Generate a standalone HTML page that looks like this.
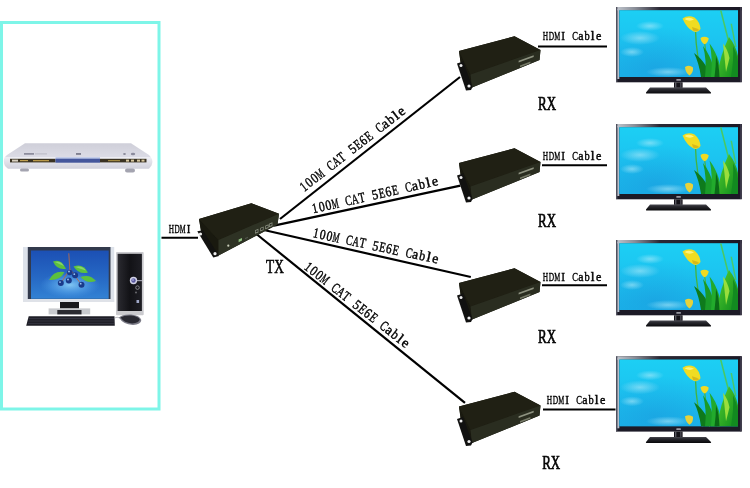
<!DOCTYPE html>
<html><head><meta charset="utf-8">
<style>
html,body{margin:0;padding:0;background:#fff;}
body{width:750px;height:488px;overflow:hidden;font-family:"Liberation Serif",serif;}
svg{display:block;filter:blur(0.35px);}
</style></head>
<body>
<svg width="750" height="488" viewBox="0 0 750 488">
<defs>
  <linearGradient id="scr" x1="0" y1="0" x2="0" y2="1">
    <stop offset="0" stop-color="#1ccff4"/>
    <stop offset="0.5" stop-color="#1cc3f0"/>
    <stop offset="1" stop-color="#1ab4ea"/>
  </linearGradient>
  <radialGradient id="scrDark" cx="0.3" cy="0.85" r="0.6">
    <stop offset="0" stop-color="#1a90d8" stop-opacity="0.42"/>
    <stop offset="1" stop-color="#1a90d8" stop-opacity="0"/>
  </radialGradient>
  <radialGradient id="cloud" cx="0.5" cy="0.5" r="0.5">
    <stop offset="0" stop-color="#bdeefa" stop-opacity="0.55"/>
    <stop offset="1" stop-color="#bdeefa" stop-opacity="0"/>
  </radialGradient>
  <linearGradient id="tvbase" x1="0" y1="0" x2="0" y2="1">
    <stop offset="0" stop-color="#4a4a52"/>
    <stop offset="0.3" stop-color="#2a2a30"/>
    <stop offset="0.75" stop-color="#141418"/>
    <stop offset="1" stop-color="#08080a"/>
  </linearGradient>
  <linearGradient id="bezTop" x1="0" y1="0" x2="1" y2="0">
    <stop offset="0" stop-color="#c0c6ce"/>
    <stop offset="0.15" stop-color="#8a8e98"/>
    <stop offset="0.35" stop-color="#2a2834"/>
    <stop offset="1" stop-color="#1a1824"/>
  </linearGradient>
  <linearGradient id="leafG" x1="0" y1="0" x2="1" y2="1">
    <stop offset="0" stop-color="#58d030"/>
    <stop offset="1" stop-color="#0c8a1c"/>
  </linearGradient>
  <g id="tv">
    <rect x="616" y="7" width="125.8" height="75.3" fill="#1c1a26"/>
    <rect x="616" y="7" width="125.5" height="3.4" fill="url(#bezTop)"/>
    <rect x="616" y="7" width="1.4" height="75" fill="#50505e"/>
    <rect x="617.4" y="9" width="1.9" height="70" fill="#b8c0cc"/>
    <rect x="740" y="7" width="1.5" height="75" fill="#3a3648"/>
    <rect x="619.3" y="10.2" width="118.7" height="66.8" fill="url(#scr)"/>
    <rect x="619.3" y="10.2" width="118.7" height="66.8" fill="url(#scrDark)"/>
    <ellipse cx="640" cy="38" rx="20" ry="7" fill="url(#cloud)"/>
    <ellipse cx="650" cy="26" rx="14" ry="5" fill="url(#cloud)"/>
    <ellipse cx="632" cy="52" rx="12" ry="5" fill="url(#cloud)"/>
    <ellipse cx="668" cy="72" rx="22" ry="5" fill="url(#cloud)"/>
    <!-- grass blades -->
    <path d="M720 10.6 L721.6 10.6 L730 43.5 L728.4 43.5 Z" fill="#52c848" opacity="0.85"/>
    <path d="M730.5 23.8 L732 23.8 L736.5 47 L735 47 Z" fill="#52c848" opacity="0.8"/>
    <!-- stems -->
    <path d="M695.6 32 Q696 55 703 77" stroke="#46b43a" stroke-width="1.3" fill="none"/>
    <path d="M704.6 43 Q707 60 709.6 77" stroke="#46b43a" stroke-width="1.1" fill="none"/>
    <!-- leaves -->
    <path d="M694 53 Q701 58 706 66 L709 77 L701 77 Q699 63 694 53Z" fill="#0e7a1c"/>
    <path d="M703 46 Q710 55 713 66 L715 77 L705 77 Q707 60 703 46Z" fill="#1a9a28"/>
    <path d="M709.6 43.5 Q716 52 719 62 L720 77 L711 77 Q713 58 709.6 43.5Z" fill="#22aa2c"/>
    <path d="M729 37 Q736 46 738 56 L738 77 L717 77 Q720 55 729 37Z" fill="url(#leafG)"/>
    <path d="M723 43.5 Q728 50 729.5 58 L726 72 Q724.5 56 723 43.5Z" fill="#9ade3c"/>
    <path d="M733 46 Q737 54 738 62 L738 77 L731 77 Q734 60 733 46Z" fill="#128a20"/>
    <path d="M716 56 Q719 64 719.5 77 L714.5 77 Q716 66 716 56Z" fill="#0a6a16"/>
    <!-- flowers -->
    <path d="M682.5 18.5 Q688 14.5 694.5 17.5 Q700 22 700.5 29 Q698.5 33 693.5 31.5 Q686.5 28 682.5 18.5Z" fill="#f0dc22"/>
    <path d="M684.5 19 Q689.5 16.5 694 19.5 Q689.5 22 684.5 19Z" fill="#fff27a"/>
    <path d="M692 27 Q696 28 699.5 30 Q697 32 693 30.5Z" fill="#d8b818"/>
    <path d="M700.5 38 Q704.5 35.5 708.7 38.3 Q708.2 43 704.5 44.3 Q701 42.5 700.5 38Z" fill="#f0da22"/>
    <path d="M685 67 Q689.5 64.5 693 67.5 Q693.5 73 689.5 75.5 Q685.5 73 685 67Z" fill="#e6d23a"/>
    <!-- LG logo -->
    <rect x="676.3" y="79" width="4.6" height="1.7" rx="0.5" fill="#9a9aa2"/>
    <!-- neck -->
    <rect x="674" y="82.3" width="8.6" height="5.6" fill="#141218"/>
    <rect x="675.2" y="82.6" width="1.1" height="5" fill="#6a6a74"/>
    <rect x="680.3" y="82.6" width="1.1" height="5" fill="#5a5a64"/>
    <!-- base -->
    <path d="M650 87.6 L706 87.6 L711 92.6 Q711.5 93.6 710.5 93.6 L646.5 93.6 Q645.5 93.6 646 92.6 Z" fill="url(#tvbase)"/>
      </g>

  <g id="rx">
    <path d="M459 51 L514.5 36.3 L540.5 50 L539.5 60 L472 87.5 L460.5 62 Z" fill="#1e1e13"/>
    <path d="M459 51 L470.5 74.5 L472 87.5 L460.5 62 Z" fill="#19190f"/>
    <path d="M459 51 L514.5 36.3 L540.5 50 L470.5 74.5 Z" fill="#202014"/>
    <path d="M470.5 74.5 L540.5 50 L539.5 60 L472 87.5 Z" fill="#2a2d20"/>
    <path d="M518.6 60.8 L533.7 55.2 L533.7 57 L518.6 62.6 Z" fill="#8e9280"/>
    <path d="M520 65.4 L530.4 61.4 L530.4 63.2 L520 67.2 Z" fill="#767a68"/>
    <path d="M457 63.5 L463 61.5 L472.5 87 L471 90 L466 90.5 Z" fill="#111110"/>
    <circle cx="461" cy="65.5" r="1.5" fill="#eeeeee"/>
    <circle cx="469" cy="86" r="1.6" fill="#eeeeee"/>
  </g>

</defs>
<rect x="1.5" y="22.5" width="157.5" height="386.5" fill="none" stroke="#7ef5e8" stroke-width="3"/>
<defs>
  <linearGradient id="pcscr" x1="0" y1="0" x2="0" y2="1">
    <stop offset="0" stop-color="#1c50b4"/>
    <stop offset="0.55" stop-color="#2668c4"/>
    <stop offset="1" stop-color="#3282d4"/>
  </linearGradient>
  <radialGradient id="pcglow" cx="0.5" cy="0.5" r="0.5">
    <stop offset="0" stop-color="#8cd0f8" stop-opacity="0.9"/>
    <stop offset="0.6" stop-color="#5aa8ec" stop-opacity="0.5"/>
    <stop offset="1" stop-color="#4a98e4" stop-opacity="0"/>
  </radialGradient>
  <linearGradient id="dvdtop" x1="0" y1="0" x2="0" y2="1">
    <stop offset="0" stop-color="#cfcfd9"/>
    <stop offset="1" stop-color="#dcdce6"/>
  </linearGradient>
  <linearGradient id="dvdfront" x1="0" y1="0" x2="0" y2="1">
    <stop offset="0" stop-color="#eeeef4"/>
    <stop offset="1" stop-color="#cfcfda"/>
  </linearGradient>
  <linearGradient id="twr" x1="0" y1="0" x2="1" y2="0">
    <stop offset="0" stop-color="#2a2a30"/>
    <stop offset="0.5" stop-color="#121216"/>
    <stop offset="1" stop-color="#1e1e24"/>
  </linearGradient>
</defs>
<!-- DVD player -->
<g>
  <path d="M25 143.3 L131 143.3 L149 155 L151 157.5 L4.5 157.5 L7 155 Z" fill="url(#dvdtop)"/>
  <path d="M4.5 157.5 L151 157.5 Q153.5 161 151.5 165.5 L149 168.8 L8 168.8 L5 166 Q3 161.5 4.5 157.5Z" fill="url(#dvdfront)"/>
  <rect x="10" y="158.8" width="45.5" height="3.6" fill="#3a3222"/>
  <rect x="55.5" y="157.4" width="44.5" height="1.3" fill="#a8b8e4"/>
  <rect x="55.5" y="158.7" width="44.5" height="4" fill="#44569c"/>
  <rect x="100" y="158.8" width="46.5" height="3.6" fill="#3a3222"/>
  <rect x="12" y="159.6" width="6" height="2" fill="#d8d0c0"/>
  <rect x="20" y="160" width="8" height="1.2" fill="#c0a050"/>
  <rect x="33" y="160" width="16" height="1.3" fill="#b89848"/>
  <rect x="108" y="160" width="12" height="1.2" fill="#a08840"/>
  <rect x="126" y="159.6" width="3" height="2" fill="#d8c8a0"/>
  <rect x="131" y="159.6" width="3" height="2" fill="#d8c8a0"/>
  <rect x="137" y="159.6" width="3" height="2" fill="#d8c8a0"/>
  <rect x="141.5" y="159.6" width="3" height="2" fill="#d8c8a0"/>
  <rect x="24" y="153.2" width="10" height="1.4" fill="#7a7a8c"/>
  <rect x="35" y="153.4" width="12" height="1" fill="#b8b8c4"/>
  <rect x="76" y="153.2" width="5" height="1.5" fill="#6a6a7c"/>
  <ellipse cx="124.5" cy="154" rx="1.4" ry="1" fill="#8a8a9a"/>
  <ellipse cx="133" cy="154" rx="2.2" ry="1.3" fill="#8a8a9c"/>
  <rect x="20" y="168.5" width="9" height="3" rx="1.5" fill="#a4a4b0"/>
  <rect x="125" y="168.5" width="10" height="4" rx="2" fill="#a4a4b0"/>
</g>
<!-- Computer -->
<g>
  <rect x="23" y="247" width="91.2" height="55" fill="#dde2ea"/>
  <rect x="27.8" y="247" width="82.7" height="52" fill="#323a4c"/>
  <rect x="31" y="250.5" width="77.7" height="48.3" fill="url(#pcscr)"/>
  <ellipse cx="70" cy="285" rx="30" ry="13" fill="url(#pcglow)"/>
  <g fill="#5cc03e">
    <path d="M53 261.5 Q61 258 66 268.8 Q57 270.5 53 261.5Z"/>
    <path d="M49 280 Q54 270 64.5 272 Q60 281 49 280Z"/>
    <path d="M73.5 266.5 Q83 263 88 272.5 Q79 275 73.5 266.5Z"/>
    <path d="M80.5 277 Q90 273.5 96 281 Q87 284.5 80.5 277Z"/>
  </g>
  <g fill="#9ae07a" opacity="0.7">
    <path d="M55 262 Q61 260.5 64 266 Q59 264 55 262Z"/>
    <path d="M75.5 267 Q82 265 86 270.5 Q80 268.5 75.5 267Z"/>
  </g>
  <path d="M68.8 253.3 L69.8 269.3 M69.8 269.3 L61 283 M69.8 269.3 L75 275 M69.8 269.3 L81.5 284.7" stroke="#b86a48" stroke-width="0.9" fill="none"/>
  <g fill="#1a3a8a">
    <circle cx="69.8" cy="272.5" r="2.8"/>
    <circle cx="75.1" cy="275.2" r="3"/>
    <circle cx="68.8" cy="280.5" r="3"/>
    <circle cx="60.8" cy="283.1" r="3"/>
    <circle cx="81.5" cy="284.7" r="3"/>
  </g>
  <g fill="#9ac4f0">
    <circle cx="69" cy="271.5" r="0.9"/>
    <circle cx="74.3" cy="274.2" r="0.9"/>
    <circle cx="68" cy="279.5" r="0.9"/>
    <circle cx="60" cy="282.1" r="0.9"/>
    <circle cx="80.7" cy="283.7" r="0.9"/>
  </g>
  <rect x="23" y="299" width="91.2" height="3" fill="#dfe2e8"/>
  <rect x="60" y="302" width="19" height="6.5" fill="#18181c"/>
  <rect x="48.6" y="308.4" width="41.6" height="6" fill="#c8cace"/>
  <rect x="57.3" y="310" width="24.2" height="4.4" fill="#2a2a30"/>
  <path d="M28.7 316.2 L114.5 316.2 L114.8 325.7 L26.2 325.7 Z" fill="#1e1e26"/>
  <g stroke="#3c3c4a" stroke-width="0.7">
    <line x1="29" y1="318.6" x2="114" y2="318.6"/>
    <line x1="28.5" y1="321" x2="114" y2="321"/>
    <line x1="28" y1="323.4" x2="114" y2="323.4"/>
  </g>
  <rect x="116" y="252" width="27.7" height="63.3" rx="1" fill="#cacace"/>
  <rect x="117.6" y="253.8" width="24.3" height="57.2" fill="url(#twr)"/>
  <rect x="134" y="280" width="8" height="1.2" fill="#9a9aa8"/>
  <circle cx="133.5" cy="280.5" r="3.7" fill="#d0d0e4"/>
  <circle cx="133.5" cy="280.5" r="2.2" fill="#5a5aa0"/>
  <circle cx="133" cy="280" r="0.8" fill="#c8c8f0"/>
  <circle cx="137.5" cy="287.6" r="1.8" fill="none" stroke="#9a9aa0" stroke-width="0.8"/>
  <circle cx="136" cy="292.5" r="1" fill="#6a6a70"/>
  <rect x="136.5" y="300" width="2.6" height="3" fill="#a0a8c8"/>
  <path d="M114.5 318 Q117 316.5 120 318" stroke="#9a9aa4" stroke-width="0.7" fill="none"/>
  <path d="M119 317.5 Q122 314.3 131 314.6 Q140 315.5 141.3 320 Q141 324.5 133 324.9 Q123 324.5 119 317.5Z" fill="#7a7a86"/>
  <path d="M120.5 317.5 Q124 315.3 131 315.6 Q138.5 316.5 139.8 319.5 Q139 323 132 323.5 Q124 322.8 120.5 317.5Z" fill="#2a2a32"/>
</g>


<!-- HDMI input line -->
<line x1="161.5" y1="237.7" x2="198" y2="237.7" stroke="#000" stroke-width="2"/>

<!-- cables -->
<g stroke="#000" stroke-width="2.2" stroke-linecap="butt">
  <line x1="280" y1="219" x2="460" y2="77"/>
  <line x1="274" y1="225.7" x2="460.4" y2="185.6"/>
  <line x1="265" y1="230.3" x2="470.8" y2="277"/>
  <line x1="257" y1="234.5" x2="465" y2="402.8"/>
</g>
<g>
  <path d="M199 219 L251.4 203.2 L279 213.7 L277.5 224.5 L218.5 255.5 L201 231 Z" fill="#1e1e13"/>
  <path d="M199 219 L218.5 240 L218.5 255.5 L201 231 Z" fill="#19190f"/>
  <path d="M199 219 L251.4 203.2 L279 213.7 L218.5 240 Z" fill="#202014"/>
  <path d="M218.5 240 L279 213.7 L277.5 224.5 L218.5 255.5 Z" fill="#2e3224"/>
  <g><path d="M255.0 230.2 L258.4 228.8 L258.4 232.4 L255.0 233.8 Z" fill="#8c9282"/><path d="M255.7 230.7 L257.7 229.9 L257.7 231.8 L255.7 232.6 Z" fill="#2a2c24"/><path d="M260.2 227.9 L263.6 226.5 L263.6 230.1 L260.2 231.5 Z" fill="#8c9282"/><path d="M260.9 228.4 L262.9 227.6 L262.9 229.5 L260.9 230.3 Z" fill="#2a2c24"/><path d="M265.2 225.7 L268.6 224.3 L268.6 227.9 L265.2 229.3 Z" fill="#8c9282"/><path d="M265.9 226.2 L267.9 225.4 L267.9 227.3 L265.9 228.1 Z" fill="#2a2c24"/><path d="M269.0 223.7 L272.4 222.3 L272.4 225.9 L269.0 227.3 Z" fill="#8c9282"/><path d="M269.7 224.2 L271.7 223.4 L271.7 225.3 L269.7 226.1 Z" fill="#2a2c24"/></g>
  <path d="M238.6 239.6 L242 238 L242 240.6 L238.6 242.2Z" fill="#90c080"/>
  <path d="M245 238 L248 236.8 L248 238 L245 239.2Z" fill="#50544a"/>
  <circle cx="228.3" cy="245.7" r="1.1" fill="#c8ccb8"/>
  <path d="M197.3 231.3 L203 230.3 L219 256 L213.3 257.6 Z" fill="#121210"/>
  <circle cx="200.5" cy="234" r="1.6" fill="#eeeeee"/>
  <circle cx="215" cy="253.7" r="1.6" fill="#eeeeee"/>
</g>

<text x="266" y="272.7" font-family="Liberation Serif" font-size="19.1" stroke="#000" stroke-width="0.55" textLength="17.8" lengthAdjust="spacingAndGlyphs">TX</text>

<use href="#rx"/>
<use href="#rx" transform="translate(0,112)"/>
<use href="#rx" transform="translate(0,232)"/>
<use href="#rx" transform="translate(0,355.5)"/>

<g fill="#000">
<g font-family="Liberation Serif" font-size="14.00" stroke="#000" stroke-width="0.42"><text transform="translate(306.50,190.20) rotate(-37.85) scale(0.764,1)" x="-3.69">1</text><text transform="translate(311.91,186.00) rotate(-37.85) scale(0.831,1)" x="-3.50">0</text><text transform="translate(317.31,181.80) rotate(-37.85) scale(0.831,1)" x="-3.50">0</text><text transform="translate(322.72,177.60) rotate(-37.85) scale(0.559,1)" x="-6.22">M</text><text transform="translate(333.53,169.20) rotate(-37.85) scale(0.702,1)" x="-4.57">C</text><text transform="translate(338.93,165.00) rotate(-37.85) scale(0.673,1)" x="-5.07">A</text><text transform="translate(344.34,160.80) rotate(-37.85) scale(0.730,1)" x="-4.29">T</text><text transform="translate(355.15,152.40) rotate(-37.85) scale(0.874,1)" x="-3.63">5</text><text transform="translate(360.56,148.20) rotate(-37.85) scale(0.735,1)" x="-4.13">E</text><text transform="translate(365.96,144.00) rotate(-37.85) scale(0.824,1)" x="-3.59">6</text><text transform="translate(371.37,139.80) rotate(-37.85) scale(0.735,1)" x="-4.13">E</text><text transform="translate(382.18,131.40) rotate(-37.85) scale(0.702,1)" x="-4.57">C</text><text transform="translate(387.58,127.20) rotate(-37.85) scale(0.990,1)" x="-3.26">a</text><text transform="translate(392.99,123.00) rotate(-37.85) scale(0.868,1)" x="-3.23">b</text><text transform="translate(398.39,118.80) rotate(-37.85) scale(1.131,1)" x="-1.94">l</text><text transform="translate(403.80,114.60) rotate(-37.85) scale(1.004,1)" x="-3.14">e</text></g>
<g font-family="Liberation Serif" font-size="14.00" stroke="#000" stroke-width="0.42"><text transform="translate(316.10,212.70) rotate(-12.75) scale(0.761,1)" x="-3.69">1</text><text transform="translate(322.76,211.19) rotate(-12.75) scale(0.828,1)" x="-3.50">0</text><text transform="translate(329.41,209.69) rotate(-12.75) scale(0.828,1)" x="-3.50">0</text><text transform="translate(336.07,208.18) rotate(-12.75) scale(0.557,1)" x="-6.22">M</text><text transform="translate(349.38,205.17) rotate(-12.75) scale(0.700,1)" x="-4.57">C</text><text transform="translate(356.03,203.67) rotate(-12.75) scale(0.671,1)" x="-5.07">A</text><text transform="translate(362.69,202.16) rotate(-12.75) scale(0.728,1)" x="-4.29">T</text><text transform="translate(376.00,199.15) rotate(-12.75) scale(0.871,1)" x="-3.63">5</text><text transform="translate(382.66,197.64) rotate(-12.75) scale(0.733,1)" x="-4.13">E</text><text transform="translate(389.31,196.14) rotate(-12.75) scale(0.821,1)" x="-3.59">6</text><text transform="translate(395.97,194.63) rotate(-12.75) scale(0.733,1)" x="-4.13">E</text><text transform="translate(409.28,191.62) rotate(-12.75) scale(0.700,1)" x="-4.57">C</text><text transform="translate(415.93,190.12) rotate(-12.75) scale(0.987,1)" x="-3.26">a</text><text transform="translate(422.59,188.61) rotate(-12.75) scale(0.865,1)" x="-3.23">b</text><text transform="translate(429.24,187.11) rotate(-12.75) scale(1.127,1)" x="-1.94">l</text><text transform="translate(435.90,185.60) rotate(-12.75) scale(1.001,1)" x="-3.14">e</text></g>
<g font-family="Liberation Serif" font-size="14.00" stroke="#000" stroke-width="0.42"><text transform="translate(315.30,237.70) rotate(11.94) scale(0.755,1)" x="-3.69">1</text><text transform="translate(321.92,239.10) rotate(11.94) scale(0.821,1)" x="-3.50">0</text><text transform="translate(328.54,240.50) rotate(11.94) scale(0.821,1)" x="-3.50">0</text><text transform="translate(335.17,241.90) rotate(11.94) scale(0.553,1)" x="-6.22">M</text><text transform="translate(348.41,244.70) rotate(11.94) scale(0.695,1)" x="-4.57">C</text><text transform="translate(355.03,246.10) rotate(11.94) scale(0.665,1)" x="-5.07">A</text><text transform="translate(361.66,247.50) rotate(11.94) scale(0.722,1)" x="-4.29">T</text><text transform="translate(374.90,250.30) rotate(11.94) scale(0.864,1)" x="-3.63">5</text><text transform="translate(381.52,251.70) rotate(11.94) scale(0.727,1)" x="-4.13">E</text><text transform="translate(388.14,253.10) rotate(11.94) scale(0.815,1)" x="-3.59">6</text><text transform="translate(394.77,254.50) rotate(11.94) scale(0.727,1)" x="-4.13">E</text><text transform="translate(408.01,257.30) rotate(11.94) scale(0.695,1)" x="-4.57">C</text><text transform="translate(414.63,258.70) rotate(11.94) scale(0.979,1)" x="-3.26">a</text><text transform="translate(421.26,260.10) rotate(11.94) scale(0.858,1)" x="-3.23">b</text><text transform="translate(427.88,261.50) rotate(11.94) scale(1.118,1)" x="-1.94">l</text><text transform="translate(434.50,262.90) rotate(11.94) scale(0.993,1)" x="-3.14">e</text></g>
<g font-family="Liberation Serif" font-size="14.00" stroke="#000" stroke-width="0.42"><text transform="translate(305.70,270.20) rotate(38.10) scale(0.767,1)" x="-3.69">1</text><text transform="translate(311.11,274.44) rotate(38.10) scale(0.834,1)" x="-3.50">0</text><text transform="translate(316.51,278.68) rotate(38.10) scale(0.834,1)" x="-3.50">0</text><text transform="translate(321.92,282.92) rotate(38.10) scale(0.561,1)" x="-6.22">M</text><text transform="translate(332.73,291.39) rotate(38.10) scale(0.705,1)" x="-4.57">C</text><text transform="translate(338.13,295.63) rotate(38.10) scale(0.675,1)" x="-5.07">A</text><text transform="translate(343.54,299.87) rotate(38.10) scale(0.732,1)" x="-4.29">T</text><text transform="translate(354.35,308.35) rotate(38.10) scale(0.877,1)" x="-3.63">5</text><text transform="translate(359.76,312.59) rotate(38.10) scale(0.738,1)" x="-4.13">E</text><text transform="translate(365.16,316.83) rotate(38.10) scale(0.827,1)" x="-3.59">6</text><text transform="translate(370.57,321.07) rotate(38.10) scale(0.738,1)" x="-4.13">E</text><text transform="translate(381.38,329.54) rotate(38.10) scale(0.705,1)" x="-4.57">C</text><text transform="translate(386.78,333.78) rotate(38.10) scale(0.994,1)" x="-3.26">a</text><text transform="translate(392.19,338.02) rotate(38.10) scale(0.871,1)" x="-3.23">b</text><text transform="translate(397.59,342.26) rotate(38.10) scale(1.135,1)" x="-1.94">l</text><text transform="translate(403.00,346.50) rotate(38.10) scale(1.008,1)" x="-3.14">e</text></g>
<g font-family="Liberation Serif" font-size="12.70" stroke="#000" stroke-width="0.42"><text transform="translate(545.55,39.90) rotate(0.00) scale(0.588,1)" x="-4.58">H</text><text transform="translate(551.45,39.90) rotate(0.00) scale(0.583,1)" x="-4.51">D</text><text transform="translate(557.35,39.90) rotate(0.00) scale(0.531,1)" x="-5.64">M</text><text transform="translate(563.25,39.90) rotate(0.00) scale(0.888,1)" x="-2.12">I</text><text transform="translate(575.05,39.90) rotate(0.00) scale(0.667,1)" x="-4.15">C</text><text transform="translate(580.95,39.90) rotate(0.00) scale(0.941,1)" x="-2.95">a</text><text transform="translate(586.85,39.90) rotate(0.00) scale(0.825,1)" x="-2.93">b</text><text transform="translate(592.75,39.90) rotate(0.00) scale(1.075,1)" x="-1.76">l</text><text transform="translate(598.65,39.90) rotate(0.00) scale(0.954,1)" x="-2.85">e</text></g>
<g font-family="Liberation Serif" font-size="12.70" stroke="#000" stroke-width="0.42"><text transform="translate(545.55,159.90) rotate(0.00) scale(0.588,1)" x="-4.58">H</text><text transform="translate(551.45,159.90) rotate(0.00) scale(0.583,1)" x="-4.51">D</text><text transform="translate(557.35,159.90) rotate(0.00) scale(0.531,1)" x="-5.64">M</text><text transform="translate(563.25,159.90) rotate(0.00) scale(0.888,1)" x="-2.12">I</text><text transform="translate(575.05,159.90) rotate(0.00) scale(0.667,1)" x="-4.15">C</text><text transform="translate(580.95,159.90) rotate(0.00) scale(0.941,1)" x="-2.95">a</text><text transform="translate(586.85,159.90) rotate(0.00) scale(0.825,1)" x="-2.93">b</text><text transform="translate(592.75,159.90) rotate(0.00) scale(1.075,1)" x="-1.76">l</text><text transform="translate(598.65,159.90) rotate(0.00) scale(0.954,1)" x="-2.85">e</text></g>
<g font-family="Liberation Serif" font-size="12.70" stroke="#000" stroke-width="0.42"><text transform="translate(545.55,281.00) rotate(0.00) scale(0.588,1)" x="-4.58">H</text><text transform="translate(551.45,281.00) rotate(0.00) scale(0.583,1)" x="-4.51">D</text><text transform="translate(557.35,281.00) rotate(0.00) scale(0.531,1)" x="-5.64">M</text><text transform="translate(563.25,281.00) rotate(0.00) scale(0.888,1)" x="-2.12">I</text><text transform="translate(575.05,281.00) rotate(0.00) scale(0.667,1)" x="-4.15">C</text><text transform="translate(580.95,281.00) rotate(0.00) scale(0.941,1)" x="-2.95">a</text><text transform="translate(586.85,281.00) rotate(0.00) scale(0.825,1)" x="-2.93">b</text><text transform="translate(592.75,281.00) rotate(0.00) scale(1.075,1)" x="-1.76">l</text><text transform="translate(598.65,281.00) rotate(0.00) scale(0.954,1)" x="-2.85">e</text></g>
<g font-family="Liberation Serif" font-size="12.70" stroke="#000" stroke-width="0.42"><text transform="translate(549.55,404.00) rotate(0.00) scale(0.588,1)" x="-4.58">H</text><text transform="translate(555.45,404.00) rotate(0.00) scale(0.583,1)" x="-4.51">D</text><text transform="translate(561.35,404.00) rotate(0.00) scale(0.531,1)" x="-5.64">M</text><text transform="translate(567.25,404.00) rotate(0.00) scale(0.888,1)" x="-2.12">I</text><text transform="translate(579.05,404.00) rotate(0.00) scale(0.667,1)" x="-4.15">C</text><text transform="translate(584.95,404.00) rotate(0.00) scale(0.941,1)" x="-2.95">a</text><text transform="translate(590.85,404.00) rotate(0.00) scale(0.825,1)" x="-2.93">b</text><text transform="translate(596.75,404.00) rotate(0.00) scale(1.075,1)" x="-1.76">l</text><text transform="translate(602.65,404.00) rotate(0.00) scale(0.954,1)" x="-2.85">e</text></g>
<g font-family="Liberation Serif" font-size="12.70" stroke="#000" stroke-width="0.42"><text transform="translate(171.28,233.00) rotate(0.00) scale(0.573,1)" x="-4.58">H</text><text transform="translate(177.03,233.00) rotate(0.00) scale(0.568,1)" x="-4.51">D</text><text transform="translate(182.78,233.00) rotate(0.00) scale(0.518,1)" x="-5.64">M</text><text transform="translate(188.53,233.00) rotate(0.00) scale(0.865,1)" x="-2.12">I</text></g>
</g>

<g stroke="#000" stroke-width="2">
  <line x1="538" y1="46.4" x2="607" y2="46.4"/>
  <line x1="542" y1="165.3" x2="607" y2="165.3"/>
  <line x1="542" y1="285.3" x2="607" y2="285.3"/>
  <line x1="543" y1="409.6" x2="615.5" y2="409.6"/>
</g>

<g font-family="Liberation Serif" font-size="19.7" stroke="#000" stroke-width="0.7">
  <text x="538" y="109.8" textLength="18" lengthAdjust="spacingAndGlyphs">RX</text>
  <text x="538" y="226.7" textLength="18" lengthAdjust="spacingAndGlyphs">RX</text>
  <text x="538" y="342.7" textLength="18" lengthAdjust="spacingAndGlyphs">RX</text>
  <text x="542.2" y="468.8" textLength="18" lengthAdjust="spacingAndGlyphs">RX</text>
</g>

<use href="#tv"/>
<use href="#tv" transform="translate(0,117)"/>
<use href="#tv" transform="translate(0,233)"/>
<use href="#tv" transform="translate(0,349.3)"/>
</svg>
</body></html>
